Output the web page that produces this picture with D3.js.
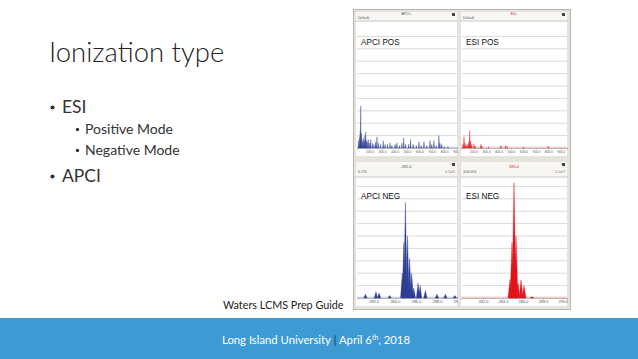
<!DOCTYPE html>
<html><head><meta charset="utf-8">
<script src="https://cdn.jsdelivr.net/npm/d3@7"></script>
<style>body{margin:0;background:#fff;}svg{display:block;}</style>
</head><body>
<svg id="c" width="638" height="359"></svg>
<script>
// ---------- data ----------
const slideTitle = "Ionization type";
const bullets = [
  {text: "ESI", level: 0},
  {text: "Positive Mode", level: 1},
  {text: "Negative Mode", level: 1},
  {text: "APCI", level: 0}
];
const caption = "Waters LCMS Prep Guide";
const footerLeft = "Long Island University";
const footerRight = "April 6";
const footerSup = "th";
const footerYear = ", 2018";

const panelTitles = ["APCI POS", "ESI POS", "APCI NEG", "ESI NEG"];
const panelHeaders = ["APCI+", "ES+", "285.0", "285.0"];
const panelLeftInfo = ["Default", "Default", "0.7%", "100.0%"];
const panelRightInfo = ["", "", "1.5e5", "1.0e7"];
const panelColors = ["#2e3f93", "#e3141b", "#2e3f93", "#e3141b"];

const posTicks = [200, 300, 400, 500, 600, 700, 800, 900];
const negTicks = [282, 284, 286, 288, 290];
const intensityGrid = [10, 20, 30, 40, 50, 60, 70, 80, 90];

// [m/z, relative intensity %]
const apciPos = [[112,6],[120,9],[126,14],[130,34],[134,12],[140,7],[146,5],[152,8],[158,6],[164,10],[170,13],[176,6],[182,5],[190,7],[198,4],[210,7],[222,4],[236,3],[250,5],[260,9],[272,4],[290,3],[310,6],[325,3],[345,3],[365,4],[380,2],[405,3],[420,4],[440,2],[460,4],[475,8],[490,3],[515,3],[530,7],[550,3],[575,2],[597,5],[615,2],[637,5],[660,2],[685,6],[700,3],[717,6],[735,2],[757,10],[765,4],[780,3],[800,1],[830,1]];
const esiPos = [[116,3],[124,9],[132,4],[140,2],[150,3],[162,5],[170,14],[176,6],[186,3],[204,3],[215,1.5],[260,3],[268,1.5],[320,1],[420,2],[458,2],[470,1],[600,0.8],[798,1.5]];
const apciNeg = [[281.2,3],[282.2,5],[282.5,4],[283.5,2],[284.7,20],[284.85,45],[285.0,77],[285.2,50],[285.4,32],[285.6,20],[285.8,8],[286.2,12],[286.4,10],[286.9,6],[288.0,3],[288.8,3],[289.7,2]];
const esiNeg = [[284.7,15],[284.9,45],[285.1,93],[285.3,50],[285.5,12],[285.8,14.5],[286.1,10],[286.9,1]];

// ---------- drawing ----------
const svg = d3.select("#c");
const font = "Lato, 'Open Sans', sans-serif";
const textCol = "#333333";

svg.append("text").attr("x", 49).attr("y", 62).attr("font-family", font)
  .attr("font-weight", 300).attr("font-size", 27.5).attr("fill", "#222").text(slideTitle);

const bulletY = [113, 134, 155, 182];
bullets.forEach((b, i) => {
  const bx = b.level === 0 ? 52.5 : 77.5;
  const tx = b.level === 0 ? 62 : 85;
  const fs = b.level === 0 ? 17.5 : 14;
  svg.append("circle").attr("cx", bx).attr("cy", bulletY[i] - (b.level === 0 ? 5.5 : 4.5))
    .attr("r", b.level === 0 ? 2.1 : 1.7).attr("fill", textCol);
  svg.append("text").attr("x", tx).attr("y", bulletY[i]).attr("font-family", font)
    .attr("font-size", fs).attr("fill", textCol).text(b.text);
});

svg.append("text").attr("x", 223).attr("y", 309).attr("font-family", font)
  .attr("font-size", 10.8).attr("fill", "#222").text(caption);

// footer
svg.append("rect").attr("x", 0).attr("y", 318).attr("width", 638).attr("height", 41).attr("fill", "#3d9ad2");
const ft = svg.append("text").attr("x", 316).attr("y", 343.5).attr("text-anchor", "middle")
  .attr("font-family", font).attr("font-size", 11.3).attr("fill", "#fff");
ft.append("tspan").text(footerLeft + "\u00a0");
ft.append("tspan").attr("fill", "#1f4e79").attr("font-weight", 700).text("|");
ft.append("tspan").text("\u00a0" + footerRight);
ft.append("tspan").attr("font-size", 7).attr("dy", -4).text(footerSup);
ft.append("tspan").attr("dy", 4).text(footerYear);

// spectrum figure frame
svg.append("rect").attr("x", 353.5).attr("y", 9.5).attr("width", 217).attr("height", 300)
  .attr("fill", "#e6e3dc").attr("stroke", "#b9b6ad");

const panels = [
  {x0: 355, x1: 458, yTop: 11, yHead: 21, yBase: 148, yBot: 157, dom: [100, 950], rng: [357, 463], ticks: posTicks, fmt: d3.format(".1f"), data: apciPos, w: 3.5},
  {x0: 460, x1: 568, yTop: 11, yHead: 21, yBase: 148, yBot: 157, dom: [100, 950], rng: [461, 567], ticks: posTicks, fmt: d3.format(".1f"), data: esiPos, w: 3.5},
  {x0: 355, x1: 458, yTop: 161, yHead: 177, yBase: 298, yBot: 307, dom: [280.4, 290], rng: [357, 458], ticks: negTicks, fmt: d3.format(".1f"), data: apciNeg, w: 0.16},
  {x0: 460, x1: 568, yTop: 161, yHead: 177, yBase: 298, yBot: 307, dom: [279.8, 290.4], rng: [461, 567], ticks: negTicks, fmt: d3.format(".1f"), data: esiNeg, w: 0.2}
];

panels.forEach((p, i) => {
  const g = svg.append("g");
  const clipId = "clip" + i;
  svg.append("clipPath").attr("id", clipId).append("rect")
    .attr("x", p.x0).attr("y", p.yTop).attr("width", p.x1 - p.x0).attr("height", p.yBot - p.yTop);
  g.attr("clip-path", `url(#${clipId})`);
  g.append("rect").attr("x", p.x0).attr("y", p.yTop).attr("width", p.x1 - p.x0).attr("height", p.yBot - p.yTop)
    .attr("fill", "#fff").attr("stroke", "#c9c6be");
  // header strip
  g.append("rect").attr("x", p.x0 + 1).attr("y", p.yTop + 1).attr("width", p.x1 - p.x0 - 2).attr("height", p.yHead - p.yTop - 1)
    .attr("fill", "#f7f6f2");
  g.append("line").attr("x1", p.x0).attr("x2", p.x1).attr("y1", p.yHead).attr("y2", p.yHead).attr("stroke", "#c8c8c8");
  const hf = i < 2 ? 3.5 : 4;
  g.append("text").attr("x", (p.x0 + p.x1) / 2).attr("y", p.yTop + (i < 2 ? 4 : 7)).attr("text-anchor", "middle")
    .attr("font-family", "Liberation Sans, Arial").attr("font-size", hf).attr("fill", i % 2 ? "#e3141b" : "#555").text(panelHeaders[i]);
  g.append("text").attr("x", p.x0 + 3).attr("y", p.yTop + (i < 2 ? 8 : 12)).attr("font-family", "Liberation Sans, Arial")
    .attr("font-size", hf).attr("fill", "#555").text(panelLeftInfo[i]);
  g.append("text").attr("x", p.x1 - 3).attr("y", p.yTop + (i < 2 ? 8 : 12)).attr("text-anchor", "end").attr("font-family", "Liberation Sans, Arial")
    .attr("font-size", hf).attr("fill", "#777").text(panelRightInfo[i]);
  g.append("rect").attr("x", p.x1 - 6).attr("y", p.yTop + 2).attr("width", 3).attr("height", 3).attr("fill", "#444");

  const x = d3.scaleLinear().domain(p.dom).range(p.rng);
  const y = d3.scaleLinear().domain([0, 100]).range([p.yBase, p.yBase - 124]);

  // gridlines
  g.selectAll("line.grid").data(intensityGrid).join("line")
    .attr("x1", p.x0 + 2).attr("x2", p.x1 - 1)
    .attr("y1", d => y(d)).attr("y2", d => y(d))
    .attr("stroke", "#cfcfcf").attr("stroke-width", 0.8);

  // axis
  const ax = g.append("g").attr("transform", `translate(0,${p.yBase})`)
    .call(d3.axisBottom(x).tickValues(p.ticks).tickFormat(p.fmt).tickSize(1.5).tickPadding(1));
  ax.select(".domain").attr("stroke", "#888").attr("stroke-width", 0.6);
  ax.selectAll(".tick line").attr("stroke", "#888").attr("stroke-width", 0.5);
  ax.selectAll("text").attr("font-size", i < 2 ? 3.2 : 4).attr("fill", "#555").attr("font-family", "Liberation Sans, Arial");

  // panel title
  g.append("text").attr("x", p.x0 + 6).attr("y", i < 2 ? 45 : 199).attr("font-family", "Liberation Sans, Arial")
    .attr("font-size", 8.2).attr("fill", "#111").text(panelTitles[i]);

  // peaks
  const area = d3.area().x(d => x(d[0])).y0(y(0)).y1(d => y(d[1]));
  g.selectAll("path.pk").data(p.data).join("path")
    .attr("d", d => area([[d[0] - p.w, 0], [d[0], d[1]], [d[0] + p.w, 0]]))
    .attr("fill", panelColors[i]).attr("stroke", panelColors[i]).attr("stroke-width", 0.5).attr("stroke-opacity", 0.7);
  // baseline noise
  g.append("line").attr("x1", p.rng[0]).attr("x2", Math.min(p.rng[1], p.x1)).attr("y1", y(0.6)).attr("y2", y(0.6))
    .attr("stroke", panelColors[i]).attr("stroke-width", 0.6).attr("opacity", 0.5);
});
</script>
</body></html>
